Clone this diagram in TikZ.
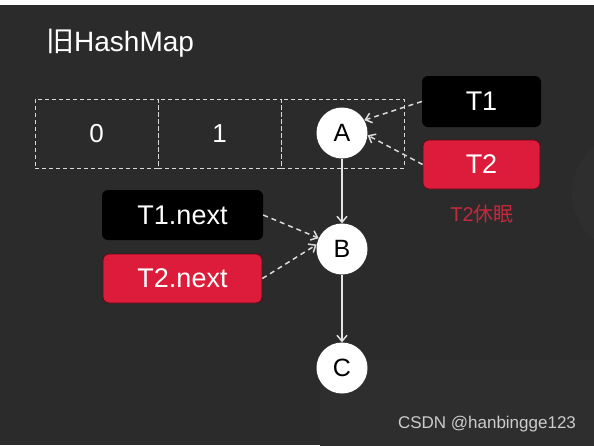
\documentclass[tikz,border=0pt]{standalone}
\usepackage{fontspec}
\setmainfont{Liberation Sans}
\newfontfamily\cjk{Noto Sans CJK SC}
\usetikzlibrary{arrows.meta}
\definecolor{bg}{HTML}{2B2B2B}
\definecolor{bglight}{HTML}{2E2E2E}
\definecolor{tred}{HTML}{DC1C3A}
\definecolor{tredborder}{HTML}{5A0A14}
\definecolor{sleepred}{HTML}{C8283C}
\tikzset{
  x=1pt,y=-1pt,
  cell/.style={draw=white!85!black,dashed,dash pattern=on 4pt off 3pt,line width=1pt,minimum width=123pt,minimum height=69pt,inner sep=0pt,text=white,font=\fontsize{26}{30}\selectfont},
  ball/.style={circle,fill=white,draw=none,minimum size=51pt,inner sep=0pt,font=\fontsize{25}{29}\selectfont},
  blackbox/.style={rounded corners=6pt,fill=black,text=white,inner sep=0pt,font=\fontsize{27}{31}\selectfont},
  redbox/.style={rounded corners=6pt,fill=tred,draw=tredborder,line width=0.8pt,text=white,inner sep=0pt,font=\fontsize{27}{31}\selectfont},
  solidarr/.style={draw=white!90!black,line width=1.4pt,-{Straight Barb[length=6pt,width=10pt]}},
  dasharr/.style={draw=white!85!black,line width=1.5pt,dash pattern=on 5pt off 4pt,-{Straight Barb[length=6pt,width=10pt]}},
}
\begin{document}
\begin{tikzpicture}
\useasboundingbox (0,0) rectangle (594,445);
\fill[white] (0,0) rectangle (594,445);
\fill[bg] (0,5) rectangle (594,445);
\fill[bglight] (632,193) circle (60);
\fill[bglight,rounded corners=30pt] (320,360) rectangle (640,480);
\node[anchor=west,text=white,inner sep=0pt,font=\fontsize{28}{32}\selectfont] (title) at (46,43) {{\cjk 旧}HashMap};
\node[cell] (c0) at (96.5,133.5) {0};
\node[cell] (c1) at (219.5,133.5) {1};
\node[cell] (c2) at (342.5,133.5) {};
\node[ball] (A) at (342,133) {A};
\node[ball] (B) at (342,249) {B};
\node[ball] (C) at (342,368) {C};
\node[blackbox,minimum width=119pt,minimum height=51pt] (T1) at (481.5,101.5) {T1};
\node[redbox,minimum width=117pt,minimum height=49pt] (T2) at (481.5,164.5) {T2};
\node[text=sleepred,font=\fontsize{20}{24}\selectfont] (sleep) at (482,214) {T2{\cjk 休眠}};
\node[blackbox,minimum width=161pt,minimum height=50pt] (T1n) at (182.5,215) {T1.next};
\node[redbox,minimum width=159pt,minimum height=49pt] (T2n) at (182.5,278.5) {T2.next};
\node[text=white!80!black,font=\fontsize{17}{20}\selectfont] (wm) at (487,424) {CSDN @hanbingge123};
\draw[solidarr] (A) -- (B);
\draw[solidarr] (B) -- (C);
\draw[dasharr] (T1.west) -- (A.30);
\draw[dasharr] (T2.west) -- (A.-5);
\draw[dasharr] (T1n.east) -- (B.155);
\draw[dasharr] (T2n.east) -- (B.170);
\end{tikzpicture}
\end{document}
